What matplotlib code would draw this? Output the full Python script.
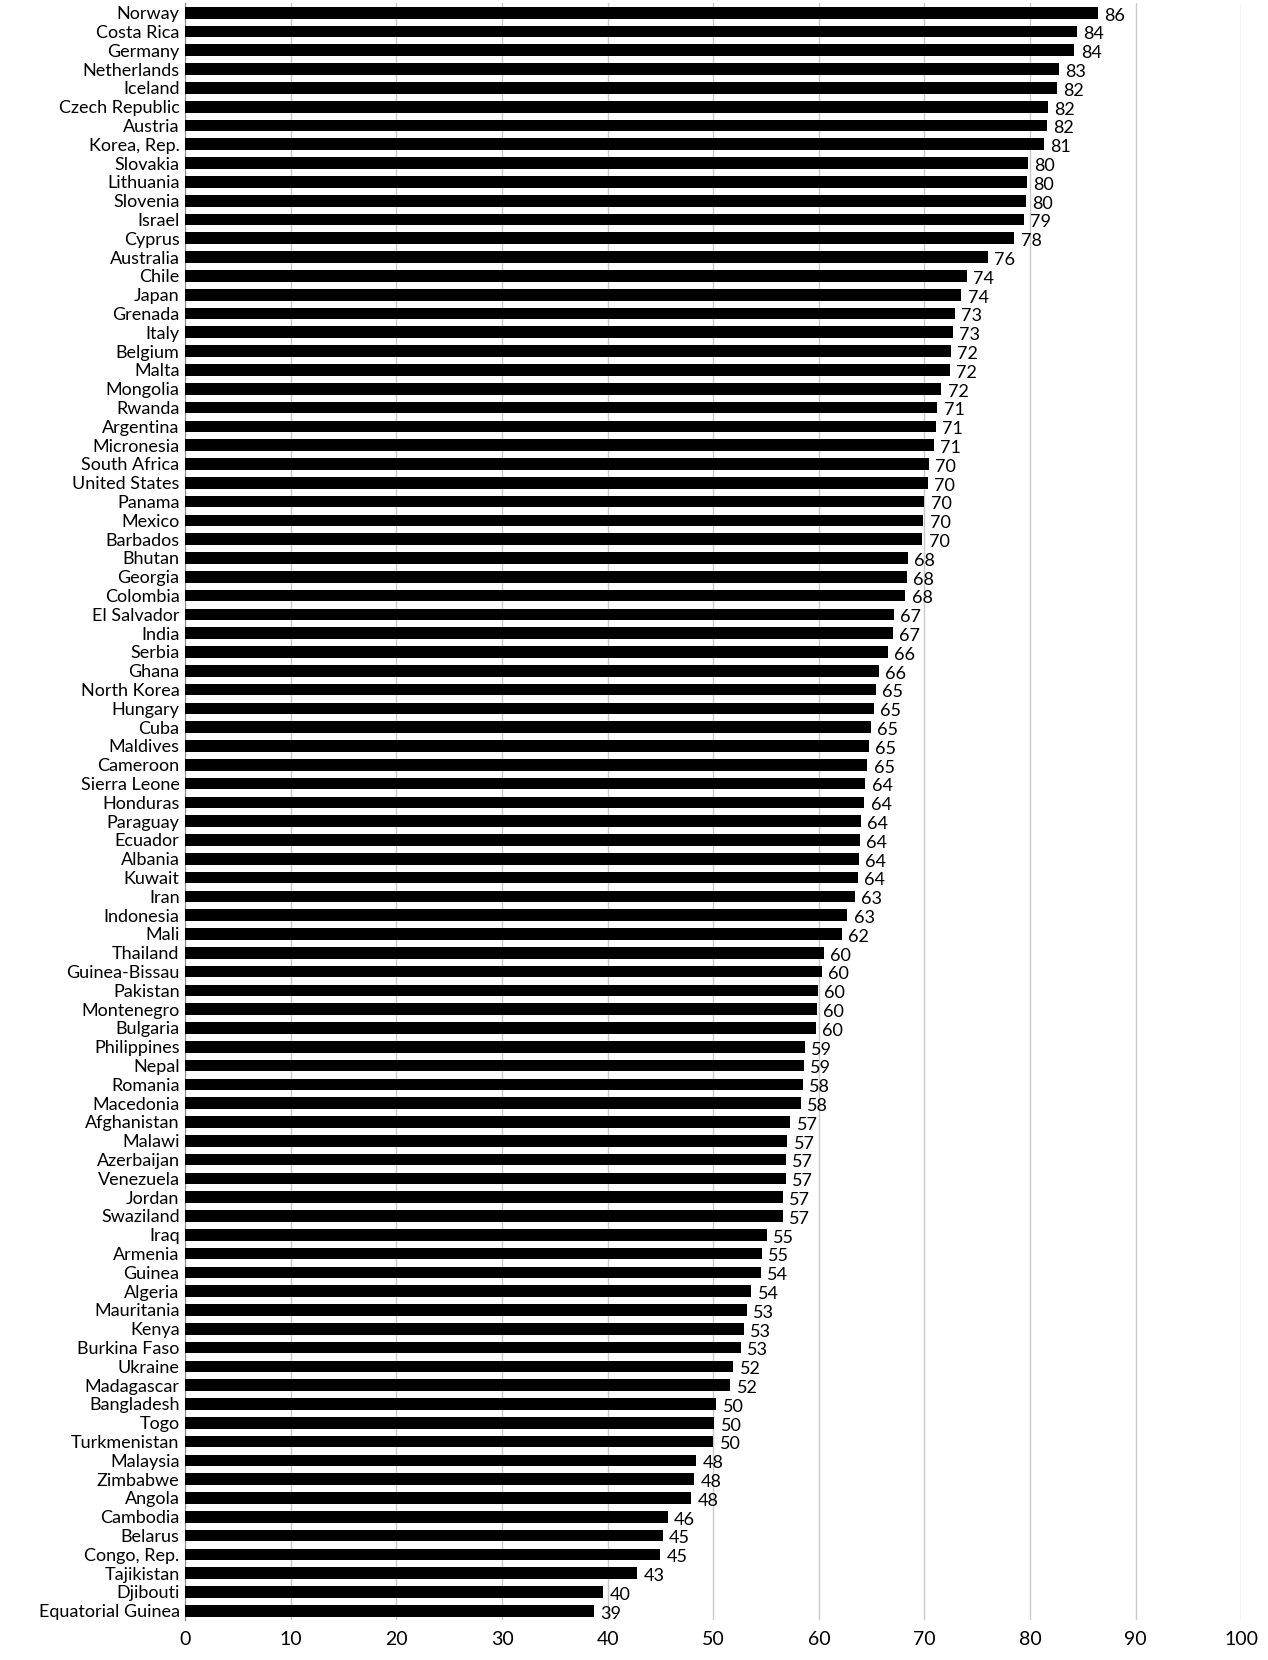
import matplotlib
matplotlib.use('Agg')
from matplotlib import pyplot as plt

countries = ["Norway", "Costa Rica", "Germany", "Netherlands", "Iceland", "Czech Republic", "Austria",
             "Korea, Rep.", "Slovakia", "Lithuania", "Slovenia", "Israel", "Cyprus", "Australia", "Chile",
             "Japan", "Grenada", "Italy", "Belgium", "Malta", "Mongolia", "Rwanda", "Argentina", "Micronesia",
             "South Africa", "United States", "Panama", "Mexico", "Barbados", "Bhutan", "Georgia", "Colombia",
             "El Salvador", "India", "Serbia", "Ghana", "North Korea", "Hungary", "Cuba", "Maldives",
             "Cameroon", "Sierra Leone", "Honduras", "Paraguay", "Ecuador", "Albania", "Kuwait", "Iran",
             "Indonesia", "Mali", "Thailand", "Guinea-Bissau", "Pakistan", "Montenegro", "Bulgaria",
             "Philippines", "Nepal", "Romania", "Macedonia", "Afghanistan", "Malawi", "Azerbaijan",
             "Venezuela", "Jordan", "Swaziland", "Iraq", "Armenia", "Guinea", "Algeria", "Mauritania",
             "Kenya", "Burkina Faso", "Ukraine", "Madagascar", "Bangladesh", "Togo", "Turkmenistan",
             "Malaysia", "Zimbabwe", "Angola", "Cambodia", "Belarus", "Congo, Rep.", "Tajikistan",
             "Djibouti", "Equatorial Guinea"]
values = [86.4, 84.4, 84.2, 82.7, 82.5, 81.7, 81.6, 81.3, 79.8, 79.7, 79.6, 79.4, 78.5, 76.0, 74.0,
          73.5, 72.9, 72.7, 72.5, 72.4, 71.6, 71.2, 71.1, 70.9, 70.4, 70.3, 70.0, 69.9, 69.8, 68.4,
          68.3, 68.2, 67.1, 67.0, 66.5, 65.7, 65.4, 65.2, 64.9, 64.7, 64.6, 64.4, 64.3, 64.0, 63.9,
          63.8, 63.7, 63.4, 62.7, 62.2, 60.5, 60.3, 59.9, 59.8, 59.7, 58.7, 58.6, 58.5, 58.3, 57.3,
          57.0, 56.9, 56.9, 56.6, 56.6, 55.1, 54.6, 54.5, 53.6, 53.2, 52.9, 52.6, 51.9, 51.6, 50.3,
          50.1, 50.0, 48.4, 48.2, 47.9, 45.7, 45.2, 45.0, 42.8, 39.6, 38.7]

plt.rcParams['font.family'] = ['Lato', 'DejaVu Sans']
fig = plt.figure(figsize=(12.68, 16.6), dpi=100)
ax = fig.add_axes([0.146, 0.024, 0.833, 0.974])

y = list(range(len(countries)))
ax.barh(y, values, height=0.62, color='black', zorder=3)
for yi, v in zip(y, values):
    ax.text(v + 0.6, yi + 0.15, f"{round(v)}", va='center', ha='left', fontsize=13, zorder=4)

ax.set_yticks(y)
ax.set_yticklabels(countries, fontsize=13)
ax.set_ylim(len(countries) - 0.5, -0.5)
ax.set_xlim(0, 100)
ax.set_xticks(range(0, 101, 10))
ax.tick_params(axis='x', labelsize=14, length=0, pad=8)
ax.tick_params(axis='y', length=0, pad=4)
ax.grid(axis='x', color='#c8c8c8', linewidth=1, zorder=0)
for s in ['top', 'right', 'bottom']:
    ax.spines[s].set_visible(False)
ax.spines['left'].set_color('#888888')

fig.savefig('out.png')
